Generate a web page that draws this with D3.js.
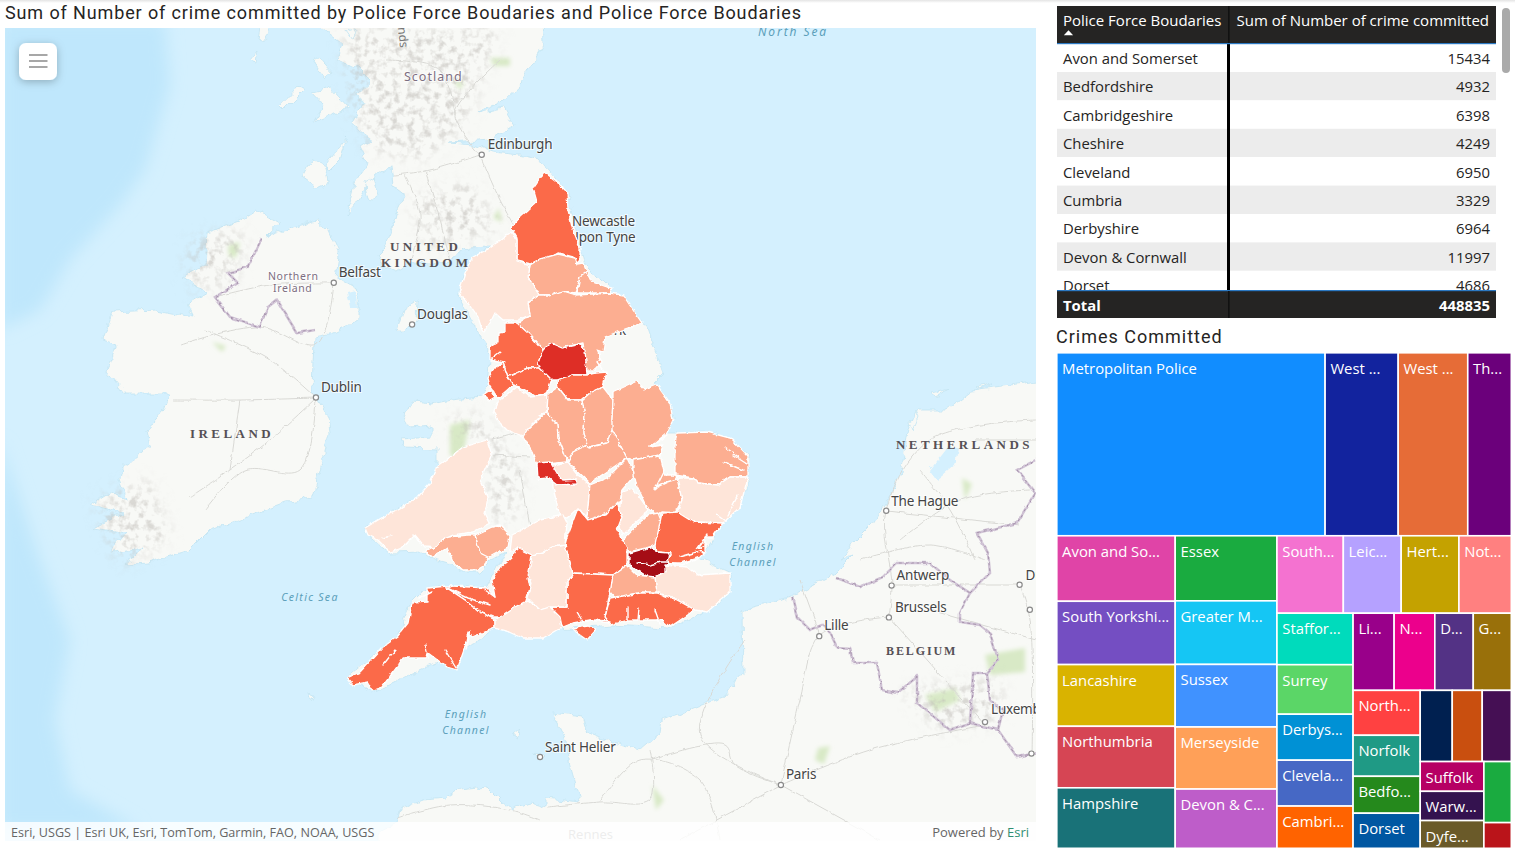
<!DOCTYPE html>
<html><head><meta charset="utf-8">
<script src="https://cdn.jsdelivr.net/npm/d3@7"></script>
<style>html,body{margin:0;padding:0;background:#fff;overflow:hidden}svg{display:block}</style>
</head><body><svg id="c" width="1515" height="851"></svg>
<script>
// ---------- Data ----------
const chartTitle = "Sum of Number of crime committed by Police Force Boudaries and Police Force Boudaries";
const tableColumns = ["Police Force Boudaries","Sum of Number of crime committed"];
const tableForces = ["Avon and Somerset","Bedfordshire","Cambridgeshire","Cheshire","Cleveland","Cumbria","Derbyshire","Devon & Cornwall","Dorset"];
const tableValues = [15434,4932,6398,4249,6950,3329,6964,11997,4686];
const tableTotal = 448835;
const treemapTitle = "Crimes Committed";

const forceNames = ["Metropolitan Police","West Midlands","West Yorkshire","Thames Valley","Avon and Somerset","South Yorkshire","Lancashire","Northumbria","Hampshire","Essex","Greater Manchester","Sussex","Merseyside","Devon & Cornwall","South Wales","Leicestershire","Hertfordshire","Nottinghamshire","Staffordshire","Surrey","Derbyshire","Cleveland","Cambridgeshire","Lincolnshire","North Yorkshire","Durham","Gwent","Northamptonshire","Norfolk","Bedfordshire","Dorset","Gloucestershire","Cheshire","Wiltshire","Suffolk","Warwickshire","Dyfed-Powys","Cumbria","Kent"];
const forceValues = [97690,26610,25330,15855,15434,14918,14541,14494,14258,13176,12873,12670,12568,11997,10227,8920,8900,8070,7800,7500,6964,6950,6398,6300,6250,5900,5840,6000,5480,4932,4686,4538,4249,4120,3770,3707,3515,3329,1400];
const forceLabels = ["Metropolitan Police","West ...","West ...","Th...","Avon and So...","South Yorkshi...","Lancashire","Northumbria","Hampshire","Essex","Greater M...","Sussex","Merseyside","Devon & C...","South...","Leic...","Hert...","Not...","Staffor...","Surrey","Derbys...","Clevela...","Cambri...","Li...","N...","D...","G...","North...","Norfolk","Bedfo...","Dorset","","","","Suffolk","Warw...","Dyfe...","",""];
const forceColours = ["#118DFF","#12239E","#E66C37","#6B007B","#E044A7","#744EC2","#D9B300","#D64554","#197278","#1AAB40","#15C6F4","#4092FF","#FFA058","#BE5DC9","#F472D0","#B5A1FF","#C4A200","#FF8080","#00DBBC","#5BD667","#0091D5","#4668C5","#FF6300","#99008A","#EC008C","#533285","#99700A","#FF4141","#1F9A85","#25891C","#0057A2","#002050","#C94F0F","#450F54","#B60064","#34124F","#6A5A29","#1AAB40","#BA141A"];
// Nesting of the treemap's rows and columns (alternating slice/dice by depth)
const treemapNesting = [
  ["Metropolitan Police","West Midlands","West Yorkshire","Thames Valley"],
  [["Avon and Somerset","South Yorkshire","Lancashire","Northumbria","Hampshire"],
   ["Essex","Greater Manchester","Sussex","Merseyside","Devon & Cornwall"],
   [["South Wales","Leicestershire","Hertfordshire","Nottinghamshire"],
    [["Staffordshire","Surrey","Derbyshire","Cleveland","Cambridgeshire"],
     [["Lincolnshire","North Yorkshire","Durham","Gwent"],
      [["Northamptonshire","Norfolk","Bedfordshire","Dorset"],
       [["Gloucestershire","Cheshire","Wiltshire"],
        [["Suffolk","Warwickshire","Dyfed-Powys"],["Cumbria","Kent"]]]]]]]]
];
const colourBreaks = [5200,11000,20000,50000];

// Police force outlines, traced in map units
const outlineNorthumbria=[[544,172],[555,180],[567,192],[568,210],[573,230],[580,247],[580,260],[577,263],[573,257],[558,253],[550,258],[540,259],[530,264],[517,261],[517,238],[511,228],[520,217],[537,202],[533,188]];
const outlineDurham=[[530,265],[540,259],[558,254],[575,258],[577,264],[583,263],[587,272],[580,277],[576,293],[563,291],[550,295],[539,295],[528,277]];
const outlineCleveland=[[587,272],[592,282],[607,287],[612,288],[610,293],[577,293],[580,277]];
const outlineNorthYorkshire=[[539,295],[550,295],[563,291],[576,295],[610,293],[623,295],[633,310],[642,323],[622,330],[605,337],[603,352],[597,350],[602,362],[595,370],[587,370],[583,343],[562,348],[550,344],[543,350],[530,335],[517,323],[530,315],[528,303]];
const outlineCumbria=[[511,232],[517,240],[517,261],[530,265],[528,277],[539,295],[528,303],[530,315],[517,320],[503,320],[495,313],[490,323],[483,333],[478,317],[470,305],[459,292],[465,273],[473,257],[490,248]];
const outlineLancashire=[[517,323],[530,335],[543,350],[538,363],[540,368],[527,368],[508,377],[503,363],[490,360],[490,347],[498,342],[498,333],[505,332],[505,323]];
const outlineMerseyside=[[503,363],[508,377],[513,385],[498,398],[490,387],[488,378],[495,368]];
const outlineWirral=[[483,395],[490,390],[495,398],[490,401]];
const outlineGreaterManchester=[[508,377],[527,368],[540,368],[552,380],[547,393],[537,397],[520,387],[513,385]];
const outlineWestYorkshire=[[550,343],[562,348],[580,344],[585,350],[587,375],[572,375],[557,380],[552,380],[540,368],[538,363],[543,350]];
const outlineSouthYorkshire=[[557,380],[572,375],[587,375],[595,373],[607,372],[603,387],[590,393],[582,400],[568,400],[558,387]];
const outlineCheshire=[[497,403],[507,395],[517,387],[530,397],[548,395],[547,410],[527,430],[525,437],[507,430],[500,423],[493,412]];
const outlineStaffordshire=[[527,430],[547,412],[557,423],[558,437],[565,455],[567,462],[537,465],[532,452],[523,437]];
const outlineDerbyshire=[[548,394],[558,387],[568,400],[582,400],[585,415],[584,432],[587,445],[573,452],[568,460],[565,455],[558,437],[557,423],[547,412]];
const outlineNottinghamshire=[[582,400],[590,393],[603,387],[613,400],[612,420],[614,432],[607,443],[590,447],[587,445],[584,432],[585,415]];
const outlineLincolnshire=[[613,392],[637,381],[645,390],[657,385],[670,403],[673,420],[667,433],[650,447],[663,445],[660,455],[633,460],[627,458],[612,430],[612,420],[613,400]];
const outlineLeicestershire=[[587,445],[573,452],[568,462],[590,483],[627,458],[612,430],[607,443],[590,447]];
const outlineWarwickshire=[[552,465],[568,462],[580,477],[590,485],[587,517],[578,508],[567,518],[560,517],[553,487]];
const outlineWestMidlands=[[537,463],[550,462],[557,473],[563,480],[577,479],[577,484],[557,485],[548,478],[538,479]];
const outlineNorthamptonshire=[[587,517],[590,485],[607,478],[627,458],[635,475],[622,490],[620,502],[607,513],[588,520]];
const outlineCambridgeshire=[[637,487],[633,470],[633,460],[660,455],[665,475],[677,475],[682,500],[675,513],[662,512],[657,515],[647,508]];
const outlineNorfolk=[[677,433],[707,432],[730,438],[748,457],[748,477],[730,477],[718,485],[698,483],[693,478],[675,475],[675,445]];
const outlineSuffolk=[[677,478],[693,478],[698,483],[718,485],[730,477],[748,477],[740,507],[723,523],[693,522],[677,513],[682,500]];
const outlineBedfordshire=[[618,520],[622,492],[633,488],[647,508],[645,515],[635,523],[623,535]];
const outlineHertfordshire=[[623,540],[647,515],[658,513],[665,530],[655,545],[650,547],[629,552],[625,550]];
const outlineEssex=[[655,545],[662,513],[677,512],[693,522],[723,523],[713,537],[705,537],[705,552],[700,557],[680,563],[668,563],[670,553],[657,552]];
const outlineMetropolitanPolice=[[629,553],[650,547],[657,552],[670,553],[668,563],[665,573],[650,578],[637,570],[629,563]];
const outlineThamesValley=[[567,537],[578,508],[588,520],[605,515],[617,502],[622,517],[617,530],[627,548],[627,565],[613,575],[573,573],[565,545]];
const outlineSurrey=[[627,565],[637,575],[655,577],[657,592],[642,592],[615,598],[610,592],[613,575]];
const outlineKent=[[665,565],[687,567],[697,575],[730,573],[730,592],[707,612],[695,610],[677,600],[657,592],[655,577],[665,572]];
const outlineSussex=[[610,598],[640,593],[657,593],[677,600],[695,610],[670,627],[662,620],[638,620],[627,620],[610,625],[605,617]];
const outlineHampshire=[[573,573],[613,575],[610,593],[605,617],[610,623],[590,620],[573,623],[563,627],[557,617],[552,607],[567,607],[567,583]];
const outlineIsleOfWight=[[573,628],[588,626],[596,630],[587,640],[577,633]];
const outlineWiltshire=[[532,555],[543,552],[553,547],[565,545],[573,573],[567,583],[567,607],[550,607],[540,610],[528,598],[532,583],[528,577]];
const outlineGloucestershire=[[512,535],[540,520],[563,515],[567,523],[565,545],[553,547],[543,552],[532,555],[517,548],[510,552]];
const outlineGwent=[[475,535],[492,527],[500,525],[510,535],[508,548],[497,553],[488,558],[480,553]];
const outlineSouthWales=[[425,552],[438,543],[448,537],[468,535],[475,535],[480,553],[488,557],[485,565],[477,570],[463,570],[453,562],[447,548],[433,557]];
const outlineDyfedPowys=[[365,528],[383,517],[400,508],[417,498],[430,483],[436,468],[463,447],[487,440],[492,455],[480,480],[488,497],[485,513],[490,523],[473,532],[453,535],[442,540],[435,548],[425,547],[415,535],[402,548],[390,552],[378,540],[368,535]];
const outlineAvonAndSomerset=[[517,548],[532,555],[528,577],[530,587],[525,603],[513,608],[502,617],[493,617],[480,612],[468,602],[455,593],[447,588],[453,586],[487,588],[495,597],[492,580],[500,567],[512,557]];
const outlineDevonCornwall=[[427,588],[447,586],[453,586],[447,588],[468,602],[480,612],[495,620],[495,628],[472,637],[468,632],[465,647],[457,670],[447,667],[428,653],[425,658],[403,658],[397,667],[382,687],[373,690],[368,682],[353,685],[347,678],[360,672],[383,647],[397,637],[408,623],[412,603],[427,602]];
const outlineDorset=[[495,620],[513,608],[528,600],[540,610],[550,607],[560,617],[562,627],[543,638],[523,638],[510,632],[495,628]];
const forceOutlines=[["Northumbria",outlineNorthumbria],["Durham",outlineDurham],["Cleveland",outlineCleveland],["North Yorkshire",outlineNorthYorkshire],["Cumbria",outlineCumbria],["Lancashire",outlineLancashire],["Merseyside",outlineMerseyside],["Merseyside",outlineWirral],["Greater Manchester",outlineGreaterManchester],["West Yorkshire",outlineWestYorkshire],["South Yorkshire",outlineSouthYorkshire],["Cheshire",outlineCheshire],["Staffordshire",outlineStaffordshire],["Derbyshire",outlineDerbyshire],["Nottinghamshire",outlineNottinghamshire],["Lincolnshire",outlineLincolnshire],["Leicestershire",outlineLeicestershire],["Warwickshire",outlineWarwickshire],["West Midlands",outlineWestMidlands],["Northamptonshire",outlineNorthamptonshire],["Cambridgeshire",outlineCambridgeshire],["Norfolk",outlineNorfolk],["Suffolk",outlineSuffolk],["Bedfordshire",outlineBedfordshire],["Hertfordshire",outlineHertfordshire],["Essex",outlineEssex],["Metropolitan Police",outlineMetropolitanPolice],["Thames Valley",outlineThamesValley],["Surrey",outlineSurrey],["Kent",outlineKent],["Sussex",outlineSussex],["Hampshire",outlineHampshire],["Hampshire",outlineIsleOfWight],["Wiltshire",outlineWiltshire],["Gloucestershire",outlineGloucestershire],["Gwent",outlineGwent],["South Wales",outlineSouthWales],["Dyfed-Powys",outlineDyfedPowys],["Avon and Somerset",outlineAvonAndSomerset],["Devon & Cornwall",outlineDevonCornwall],["Dorset",outlineDorset]];
// Coastal inlets and rivers that cut white notches through the regions
const coastInlets=[
 [[637,563],[650,565],[660,562],[668,562],[682,565],[700,558]],[[707,535],[698,548],[706,545]],[[680,557],[700,551],[704,555]],
 [[577,612],[583,622],[592,620],[610,621]],[[627,608],[627,620]],[[639,608],[638,620]],[[655,610],[660,624]],
 [[723,462],[743,470]],[[733,455],[747,464]],[[725,447],[740,458]],[[717,515],[725,521]],[[738,495],[728,515]],
 [[426,645],[428,658]],[[445,650],[456,668]],[[470,632],[466,650]],[[383,665],[395,650]],[[420,598],[432,592]],
 [[382,538],[392,536]],[[413,534],[420,543]],[[447,588],[468,598],[490,605]],[[495,597],[485,590]],
 [[602,352],[597,362],[604,372]],[[490,360],[500,352]],[[495,368],[505,362]],[[650,447],[667,435]],
 [[655,488],[667,482],[680,478]],[[655,490],[665,470]]
];

// Base map, traced in map units
const landBritain=[[310,20],[330,35],[343,45],[338,58],[358,68],[372,82],[358,95],[362,103],[352,122],[360,132],[372,140],[360,148],[368,165],[355,185],[347,215],[355,205],[368,185],[375,175],[390,168],[392,185],[405,195],[395,215],[390,235],[383,250],[378,255],[385,268],[395,272],[410,262],[430,265],[445,262],[470,248],[490,247],[465,273],[458,295],[480,335],[490,350],[487,385],[483,397],[450,400],[432,404],[415,402],[402,413],[410,427],[432,425],[432,438],[400,440],[403,447],[437,448],[437,470],[430,490],[365,528],[368,535],[390,553],[425,552],[435,560],[453,565],[463,572],[478,572],[490,560],[505,552],[487,588],[453,586],[427,588],[412,603],[397,637],[347,678],[373,692],[465,650],[495,628],[560,630],[610,625],[670,628],[707,612],[730,592],[730,573],[700,560],[723,523],[748,490],[748,457],[730,438],[707,432],[677,433],[665,433],[673,420],[670,403],[653,383],[663,373],[647,327],[642,323],[610,290],[585,265],[580,247],[567,192],[544,165],[540,160],[520,155],[493,152],[473,145],[450,143],[490,140],[513,125],[503,108],[477,113],[500,103],[522,82],[543,45],[542,15]];
const landIreland=[[257,210],[280,223],[267,235],[283,230],[317,220],[328,230],[340,257],[337,277],[358,290],[358,320],[333,333],[315,337],[313,360],[312,390],[328,417],[330,433],[320,470],[312,498],[287,502],[247,517],[210,530],[190,550],[147,563],[127,565],[143,547],[110,553],[127,533],[93,528],[123,513],[90,505],[110,492],[127,498],[120,480],[122,467],[150,447],[147,430],[165,410],[170,395],[125,395],[107,372],[118,345],[103,340],[113,312],[157,310],[193,317],[187,305],[207,293],[182,277],[205,265],[207,233],[238,222]];
const landContinent=[[640,750],[660,733],[662,720],[690,710],[723,697],[743,673],[742,613],[750,608],[792,597],[837,573],[853,557],[843,560],[853,543],[873,523],[890,497],[900,473],[907,433],[917,410],[947,410],[973,390],[1045,380],[1045,850],[380,850],[380,830],[397,822],[400,810],[423,800],[447,798],[460,790],[487,787],[503,803],[513,810],[530,802],[547,807],[547,798],[580,802],[570,767],[567,743],[557,723],[552,713],[583,717],[588,733],[613,743]];
const landIslands=[[[397,330],[403,310],[418,300],[417,320],[407,330]],[[313,92],[330,88],[348,108],[313,122],[325,105]],[[365,182],[372,178],[378,195],[370,202]],[[303,178],[313,158],[327,165],[330,182],[317,188]],[[327,163],[347,138],[340,160],[330,170]],[[278,108],[300,85],[304,90],[282,112]],[[313,62],[325,78],[330,72],[318,58]],[[270,25],[258,28],[256,40],[262,43],[268,35]],[[533,753],[545,755],[540,760]],[[512,735],[518,730],[517,738]],[[308,693],[314,695],[311,700]],[[910,423],[915,412],[918,418],[913,430]],[[933,393],[950,389],[935,396]],[[975,387],[993,384],[980,389]],[[345,30],[358,28],[352,40]],[[250,60],[258,50],[256,62]]];
const waterLakes=[[[930,470],[948,447],[958,448],[955,465],[937,480]],[[347,292],[355,290],[358,308],[350,308]]];
const deepSeaBands=[[[0,20],[165,20],[170,85],[145,170],[120,205],[70,260],[40,310],[0,330]],[[0,440],[40,560],[70,640],[55,720],[70,790],[140,830],[0,830]]];
const greenPatches=[[[228,245],[240,242],[236,258],[229,256]],[[450,425],[470,420],[462,460],[450,455]],[[453,80],[464,82],[460,90]],[[490,58],[510,58],[510,66],[494,66]],[[925,695],[955,688],[960,700],[935,712]],[[962,478],[972,484],[965,500]],[[985,655],[1025,648],[1025,672],[990,675]],[[815,760],[818,748],[830,746],[824,764]],[[652,785],[664,800],[656,810]],[[493,218],[499,208],[502,222]],[[212,342],[226,346],[222,352]]];
const hillAreas=[[[345,28],[500,28],[480,80],[462,130],[420,160],[372,150],[350,100]],[[440,420],[480,415],[522,470],[515,522],[490,520],[488,450]],[[410,200],[470,180],[500,230],[430,250]],[[95,500],[150,480],[170,540],[120,565]],[[190,240],[245,230],[235,280],[190,290]],[[900,690],[1000,680],[1000,720],[940,730]]];
const roadLines=[[[316,398],[270,360],[205,330]],[[316,398],[240,400],[173,400]],[[316,398],[270,440],[230,470],[190,497]],[[316,398],[300,470],[245,470],[205,510]],[[240,400],[230,470]],[[180,345],[260,327],[316,345],[334,283]],[[334,283],[270,285],[215,297]],[[480,155],[430,170],[395,175]],[[480,155],[500,200],[525,245]],[[425,170],[440,220],[450,262]],[[405,175],[420,215],[410,262]],[[480,155],[455,115],[470,90],[500,60]],[[455,115],[440,70],[385,60]],[[781,785],[735,765],[725,745],[650,760]],[[781,785],[800,700],[820,635],[889,617]],[[781,785],[870,750],[985,725]],[[781,785],[700,735],[745,640]],[[820,635],[800,580]],[[889,617],[892,585],[886,511],[930,440],[1036,420]],[[889,617],[985,725]],[[892,585],[1020,585]],[[886,511],[1020,525]],[[781,785],[880,840]],[[781,785],[680,840]],[[547,807],[600,802],[650,800],[650,750]],[[600,802],[640,760],[700,780],[720,840]],[[397,818],[450,805],[510,810],[540,820]],[[930,610],[1036,640]],[[1020,585],[1030,620],[1032,753]],[[492,440],[520,432]],[[490,455],[530,457]],[[520,470],[530,527]],[[975,440],[1036,440]],[[900,540],[960,500],[1030,490]],[[920,470],[950,510],[975,560]],[[860,560],[930,545],[985,560]]];
const borderLines=[[[792,597],[797,617],[810,630],[823,625],[830,633],[837,647],[850,648],[853,663],[877,663],[882,690],[897,693],[917,677],[917,703],[950,730],[970,723],[998,730],[1017,757],[1036,753]],[[970,723],[973,673],[987,673],[998,660],[990,633],[980,625],[960,622],[960,613],[970,593],[950,580],[930,563],[897,563],[883,577],[860,587],[837,578]],[[970,593],[990,573],[988,553],[977,533],[1017,523],[1035,493],[1017,470],[1036,460]],[[987,673],[990,700],[1003,710],[998,730]],[[262,238],[248,267],[228,273],[238,283],[215,297],[230,317],[260,327],[268,307],[277,300],[297,333],[315,330]]];

// Towns on the base map: name, longitude, latitude
const townNames=["Edinburgh","Belfast","Dublin","Douglas","The Hague","Antwerp","Brussels","Lille","Paris","Luxembourg","Saint Helier","Düsseldorf","Cologne","Saarbrücken"];
const townLon=[-3.19,-5.93,-6.26,-4.48,4.30,4.40,4.35,3.06,2.35,6.13,-2.11,6.77,6.96,6.99];
const townLat=[55.95,54.60,53.35,54.15,52.08,51.22,50.85,50.63,48.85,49.61,49.19,51.23,50.94,49.23];
const townLabelled=[true,true,true,true,true,true,true,true,true,true,true,true,false,false];
const townDx=[6,5,5,5,5,5,6,5,5,6,5,6,0,0];
const townDy=[-6,-6,-6,-5,-5,-6,-5,-6,-6,-8,-5,-5,0,0];
// Place and sea names, at their map-unit anchor
const sansNames=[["Scotland",404,81],["Northern",268,280],["Ireland",273,292]];
const hiddenNames=[["Newcastle",572,226],["Upon Tyne",569,242],["York",599,335]];
const serifNames=[["UNITED",390,251],["KINGDOM",381,267],["IRELAND",190,438],["NETHERLANDS",896,449],["BELGIUM",886,655]];
const seaNames=[["North Sea",793,36],["Celtic Sea",310,601],["English",466,718],["Channel",466,734],["English",753,550],["Channel",753,566]];

// ---------- Drawing ----------
const svg=d3.select("#c");
const FONT_UI="'Open Sans','Noto Sans',sans-serif", FONT_TITLE="Roboto,'Noto Sans',sans-serif", FONT_MAP="'Noto Sans','Open Sans',sans-serif", FONT_SERIF="'Liberation Serif',serif";
const defs=svg.append("defs");
defs.append("clipPath").attr("id","mapclip").append("rect").attr("x",5).attr("y",28).attr("width",1031).attr("height",813);
defs.append("clipPath").attr("id","bodyclip").append("rect").attr("x",1057).attr("y",44).attr("width",439).attr("height",246);
[["b8",8],["b1",2]].forEach(([id,s])=>defs.append("filter").attr("id",id).attr("x","-20%").attr("y","-20%").attr("width","140%").attr("height","140%").append("feGaussianBlur").attr("stdDeviation",s));
const shadow=defs.append("filter").attr("id","shadow").attr("x","-50%").attr("y","-50%").attr("width","200%").attr("height","200%");
shadow.append("feDropShadow").attr("dx",0).attr("dy",2).attr("stdDeviation",4).attr("flood-color","#000").attr("flood-opacity",.25);
// Ragged coastline look
const addRagged=(id,freq,scale,blur)=>{
  const f=defs.append("filter").attr("id",id).attr("filterUnits","userSpaceOnUse").attr("x",0).attr("y",0).attr("width",1100).attr("height",900);
  f.append("feTurbulence").attr("type","fractalNoise").attr("baseFrequency",freq).attr("numOctaves",3).attr("seed",7).attr("result","n");
  f.append("feDisplacementMap").attr("in","SourceGraphic").attr("in2","n").attr("scale",scale).attr("xChannelSelector","R").attr("yChannelSelector","G").attr("result","d");
  f.append("feGaussianBlur").attr("in","d").attr("stdDeviation",blur);
};
addRagged("raggedLand",.09,9,.35);
addRagged("raggedForce",.16,4,.3);
addRagged("raggedLine",.1,4,.35);
// Hill shading
const hills=defs.append("filter").attr("id","hills").attr("filterUnits","userSpaceOnUse").attr("x",0).attr("y",0).attr("width",1100).attr("height",900);
hills.append("feTurbulence").attr("type","fractalNoise").attr("baseFrequency",.13).attr("numOctaves",3).attr("seed",3).attr("result","n");
hills.append("feColorMatrix").attr("in","n").attr("type","matrix").attr("values","0 0 0 0 .52  0 0 0 0 .5  0 0 0 0 .47  3.4 0 0 0 -1.55").attr("result","h");
hills.append("feGaussianBlur").attr("in","SourceAlpha").attr("stdDeviation",9).attr("result","m");
hills.append("feComposite").attr("in","h").attr("in2","m").attr("operator","in");
const topFade=defs.append("linearGradient").attr("id","topfade").attr("x1",0).attr("x2",0).attr("y1",0).attr("y2",1);
topFade.append("stop").attr("offset",0).attr("stop-color","#e4e4e4");topFade.append("stop").attr("offset",1).attr("stop-color","#fff");
svg.append("rect").attr("width",1515).attr("height",3).attr("fill","url(#topfade)");

const mapUnits=d3.geoPath(d3.geoIdentity());
const lonLat=d3.geoMercator().scale(3094).translate([654,3816.5]);
const ringPath=r=>mapUnits({type:"Polygon",coordinates:[[...r,r[0]]]});
const linePath=d3.line().curve(d3.curveCatmullRom.alpha(.5));
const straightPath=l=>mapUnits({type:"LineString",coordinates:l});
const valueOf=new Map(forceNames.map((n,i)=>[n,forceValues[i]]));
const colourOf=new Map(forceNames.map((n,i)=>[n,forceColours[i]]));
const labelOf=new Map(forceNames.map((n,i)=>[n,forceLabels[i]]));
const reds=d3.scaleThreshold().domain(colourBreaks).range(d3.schemeReds[5]);

svg.append("text").attr("x",5).attr("y",19).attr("font-family",FONT_TITLE).attr("font-size",18).attr("letter-spacing",.88).attr("fill","#252423").text(chartTitle);

const map=svg.append("g").attr("clip-path","url(#mapclip)");
map.append("rect").attr("x",5).attr("y",28).attr("width",1031).attr("height",813).attr("fill","#d4f0fe");
map.append("g").attr("filter","url(#b8)").selectAll("path").data(deepSeaBands).join("path").attr("d",ringPath).attr("fill","#bfe7fc");
const allLand=[landBritain,landIreland,landContinent,...landIslands];
map.append("g").attr("filter","url(#raggedLand)").selectAll("path").data(allLand).join("path").attr("d",ringPath).attr("fill","#f8f9f6").attr("stroke","#c2e4f2").attr("stroke-width",.8);
const base=map.append("g");
base.append("g").attr("filter","url(#b1)").selectAll("path").data(greenPatches).join("path").attr("d",ringPath).attr("fill","#d8e9c6");
base.append("g").attr("filter","url(#hills)").attr("opacity",.55).selectAll("path").data(hillAreas).join("path").attr("d",ringPath).attr("fill","#000");
base.append("g").attr("filter","url(#raggedLand)").selectAll("path").data(waterLakes).join("path").attr("d",ringPath).attr("fill","#d4f0fe");
const lineLayer=base.append("g").attr("filter","url(#raggedLine)");
lineLayer.append("g").selectAll("path").data(roadLines).join("path").attr("d",linePath).attr("fill","none").attr("stroke","#d9d9d5").attr("stroke-width",1);
lineLayer.append("g").selectAll("path").data(borderLines).join("path").attr("d",straightPath).attr("fill","none").attr("stroke","#d0c3d5").attr("stroke-width",2.6);
lineLayer.append("g").selectAll("path").data(borderLines).join("path").attr("d",straightPath).attr("fill","none").attr("stroke","#a794ad").attr("stroke-width",1).attr("stroke-dasharray","3 3");

// Names that the regions partly cover go under them
const halo=s=>s.attr("paint-order","stroke").attr("stroke","#fff").attr("stroke-width",2).attr("stroke-opacity",.7);
map.append("g").selectAll("text").data(hiddenNames).join("text").attr("x",d=>d[1]).attr("y",d=>d[2]).attr("font-family",FONT_MAP).attr("font-size",13.5).attr("letter-spacing",-.2).attr("fill","#444").text(d=>d[0]).call(halo);

// Choropleth
const regions=map.append("g").attr("filter","url(#raggedForce)");
regions.append("g").selectAll("path").data(forceOutlines).join("path").attr("d",d=>ringPath(d[1])).attr("fill",d=>reds(valueOf.get(d[0]))).attr("stroke","#fff").attr("stroke-width",1.3).attr("stroke-linejoin","round");
regions.append("g").selectAll("path").data(coastInlets).join("path").attr("d",straightPath).attr("fill","none").attr("stroke","#fff").attr("stroke-width",1.4).attr("stroke-linecap","round");

// Map labels
const towns=townNames.map((n,i)=>({n,p:lonLat([townLon[i],townLat[i]]),l:townLabelled[i],dx:townDx[i],dy:townDy[i]}));
map.append("g").selectAll("circle").data(towns).join("circle").attr("cx",d=>d.p[0]).attr("cy",d=>d.p[1]).attr("r",2.6).attr("fill","#fff").attr("stroke","#8a8a8a").attr("stroke-width",1.2);
map.append("g").selectAll("text").data(towns.filter(d=>d.l)).join("text").attr("x",d=>d.p[0]+d.dx).attr("y",d=>d.p[1]+d.dy).attr("font-family",FONT_MAP).attr("font-size",13.5).attr("letter-spacing",-.2).attr("fill","#444").text(d=>d.n).call(halo);
map.append("g").selectAll("text").data(sansNames).join("text").attr("x",d=>d[1]).attr("y",d=>d[2]).attr("font-family",FONT_MAP).attr("font-size",d=>d[0]==="Scotland"?12.5:10.5).attr("letter-spacing",d=>d[0]==="Scotland"?1:.6).attr("fill","#7d6e80").text(d=>d[0]).call(halo);
map.append("g").selectAll("text").data(serifNames).join("text").attr("x",d=>d[1]).attr("y",d=>d[2]).attr("font-family",FONT_SERIF).attr("font-weight","bold").attr("font-size",d=>d[0]==="BELGIUM"?12:13).attr("letter-spacing",d=>d[0]==="BELGIUM"?1.9:3.45).attr("fill","#555055").text(d=>d[0]);
map.append("g").selectAll("text").data(seaNames).join("text").attr("x",d=>d[1]).attr("y",d=>d[2]).attr("text-anchor","middle").attr("font-family",FONT_MAP).attr("font-style","italic").attr("font-size",d=>d[0]==="North Sea"?12:10.5).attr("letter-spacing",d=>d[0]==="North Sea"?1.9:1.3).attr("fill","#5b9fba").text(d=>d[0]);
map.append("text").attr("transform","translate(400,48) rotate(84)").attr("text-anchor","end").attr("font-family",FONT_MAP).attr("font-size",12).attr("fill","#777").text("Highlands");
map.append("text").attr("x",568).attr("y",839).attr("font-family",FONT_MAP).attr("font-size",13).attr("fill","#999").text("Rennes");

// Attribution strip
map.append("rect").attr("x",5).attr("y",822).attr("width",1031).attr("height",19).attr("fill","#fff").attr("fill-opacity",.82);
svg.append("text").attr("x",11).attr("y",837).attr("font-family",FONT_UI).attr("font-size",12.6).attr("fill","#666").text("Esri, USGS | Esri UK, Esri, TomTom, Garmin, FAO, NOAA, USGS");
const powered=svg.append("text").attr("x",1029).attr("y",837).attr("text-anchor","end").attr("font-family",FONT_UI).attr("font-size",13).attr("fill","#666");
powered.append("tspan").text("Powered by ");powered.append("tspan").attr("fill","#2f8f73").text("Esri");

// Menu button
svg.append("rect").attr("x",19).attr("y",43).attr("width",38).attr("height",37).attr("rx",7).attr("fill","#fff").attr("filter","url(#shadow)");
svg.append("g").selectAll("line").data(d3.range(3)).join("line").attr("x1",29).attr("x2",47.5).attr("y1",i=>55+i*6).attr("y2",i=>55+i*6).attr("stroke","#777").attr("stroke-width",1.3);

// Table
const rowY=d3.scaleLinear().domain([0,1]).range([43.6,72]);
const table=svg.append("g").attr("font-family",FONT_UI).attr("font-size",14.85);
const body=table.append("g").attr("clip-path","url(#bodyclip)");
const rows=body.selectAll("g").data(tableForces.map((f,i)=>({f,v:tableValues[i],i}))).join("g");
rows.append("rect").attr("x",1057).attr("width",439).attr("y",d=>rowY(d.i)).attr("height",28.4).attr("fill",d=>d.i%2?"#ececec":"#fff");
rows.append("text").attr("x",1063).attr("y",d=>rowY(d.i)+20.3).attr("fill","#252423").text(d=>d.f);
rows.append("text").attr("x",1490).attr("y",d=>rowY(d.i)+20.3).attr("text-anchor","end").attr("fill","#252423").text(d=>d.v);
body.append("rect").attr("x",1227).attr("y",44).attr("width",3).attr("height",246).attr("fill","#000");
table.append("rect").attr("x",1057).attr("y",6).attr("width",439).attr("height",37).attr("fill","#252423");
table.append("rect").attr("x",1057).attr("y",43).attr("width",439).attr("height",1.2).attr("fill","#2b78c2");
table.append("rect").attr("x",1228).attr("y",6).attr("width",1.6).attr("height",37).attr("fill","#111");
table.append("text").attr("x",1063).attr("y",26).attr("font-size",15).attr("fill","#fff").text(tableColumns[0]);
table.append("text").attr("x",1489).attr("y",26).attr("font-size",15).attr("text-anchor","end").attr("fill","#fff").text(tableColumns[1]);
table.append("path").attr("d",d3.symbol(d3.symbolTriangle,22)()).attr("transform","translate(1068.5,33.5) scale(1.3,.8)").attr("fill","#fff");
table.append("rect").attr("x",1057).attr("y",290).attr("width",439).attr("height",28).attr("fill","#252423");
table.append("rect").attr("x",1057).attr("y",290).attr("width",439).attr("height",1.2).attr("fill","#2b78c2");
table.append("rect").attr("x",1228).attr("y",291).attr("width",1.6).attr("height",27).attr("fill","#111");
table.append("text").attr("x",1063).attr("y",311).attr("fill","#fff").attr("font-weight","bold").text("Total");
table.append("text").attr("x",1490).attr("y",311).attr("text-anchor","end").attr("fill","#fff").attr("font-weight","bold").text(tableTotal);
svg.append("rect").attr("x",1502).attr("y",8).attr("width",8).attr("height",65).attr("rx",4).attr("fill","#aaa");

// Treemap
svg.append("text").attr("x",1056).attr("y",343).attr("font-family",FONT_TITLE).attr("font-size",18).attr("letter-spacing",1).attr("fill","#252423").text(treemapTitle);
const root=d3.hierarchy(treemapNesting,d=>Array.isArray(d)?d:null).sum(d=>typeof d==="string"?valueOf.get(d):0);
d3.treemap().size([454.5,495.5]).tile((n,x0,y0,x1,y1)=>(n.depth%2?d3.treemapDice:d3.treemapSlice)(n,x0,y0,x1,y1))(root);
const cells=svg.append("g").attr("transform","translate(1056.8,352.8)").selectAll("g").data(root.leaves()).join("g");
cells.append("rect").attr("x",d=>d.x0).attr("y",d=>d.y0).attr("width",d=>d.x1-d.x0).attr("height",d=>d.y1-d.y0).attr("fill",d=>colourOf.get(d.data)).attr("stroke","#fff").attr("stroke-width",1.6);
cells.append("text").attr("x",d=>d.x0+5.3).attr("y",d=>d.y0+21).attr("font-family",FONT_UI).attr("font-size",14.85).attr("fill","#fff").text(d=>labelOf.get(d.data));
</script></body></html>
